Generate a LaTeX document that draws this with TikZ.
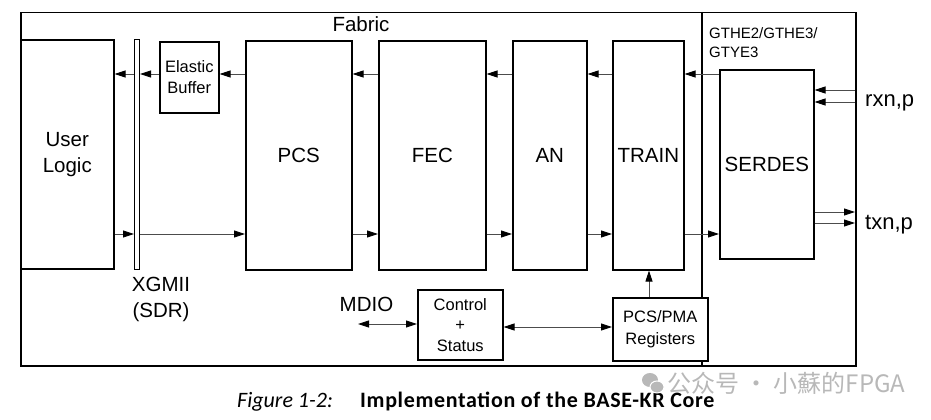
\documentclass[tikz,border=0pt]{standalone}
\usepackage{fontspec}
\setmainfont{Liberation Sans}
\newfontfamily\capfont{Carlito}
\newfontfamily\cjkfont{Noto Sans CJK SC}
\usetikzlibrary{arrows.meta}
\begin{document}
\begin{tikzpicture}[x=1pt,y=-1pt,
  blk/.style={draw, line width=1.6pt, fill=white, inner sep=0pt, anchor=north west, align=center},
  tip/.style={-{Triangle[length=11pt,width=7pt,color=black]}},
  arr/.style={line width=0.9pt, draw=black!70, tip},
  darr/.style={line width=0.9pt, draw=black!70, {Triangle[length=11pt,width=7pt,color=black]}-{Triangle[length=11pt,width=7pt,color=black]}},
  big/.style={font=\fontsize{20.5}{26}\selectfont},
  mid/.style={font=\fontsize{16.5}{21}\selectfont},
  lbl/.style={anchor=base, inner sep=0pt},
]
\useasboundingbox (0,0) rectangle (931,420);

% outer frame and divider
\node[draw, line width=1.5pt, minimum width=835, minimum height=353, inner sep=0pt, anchor=north west] (outer) at (20,12) {};
\coordinate (divx) at (702,0);
\draw[line width=1.5pt] (outer.north -| divx) -- (outer.south -| divx);

% blocks
\node[blk, big, minimum width=93, minimum height=229] (ul) at (20,39) {User\\Logic};
\node[draw, line width=1pt, fill=white, minimum width=5, minimum height=230, inner sep=0pt, anchor=north west] (xg) at (134,39) {};
\node[blk, mid, minimum width=59, minimum height=71] (eb) at (159,41) {Elastic\\Buffer};
\node[blk, big, minimum width=106, minimum height=229] (pcs) at (245,40) {PCS};
\node[blk, big, minimum width=107, minimum height=229] (fec) at (378,40) {FEC};
\node[blk, big, minimum width=74, minimum height=229] (an) at (512,40) {AN};
\node[blk, big, minimum width=71, minimum height=229] (train) at (612,40) {TRAIN};
\node[blk, big, minimum width=94, minimum height=189] (serdes) at (719,69) {SERDES};
\node[blk, font=\fontsize{16.5}{20.5}\selectfont, minimum width=85, minimum height=70] (ctrl) at (417,289) {Control\\+\\Status};
\node[blk, font=\fontsize{16.5}{22}\selectfont, minimum width=95, minimum height=63] (regs) at (612,297) {PCS/PMA\\Registers};

% arrow rows
\coordinate (up) at (0,74);
\coordinate (lo) at (0,234);
\draw[arr] (eb.west |- up) -- (xg.east |- up);
\draw[arr] (xg.west |- up) -- (ul.east |- up);
\draw[arr] (pcs.west |- up) -- (eb.east |- up);
\draw[arr] (fec.west |- up) -- (pcs.east |- up);
\draw[arr] (an.west |- up) -- (fec.east |- up);
\draw[arr] (train.west |- up) -- (an.east |- up);
\draw[arr] (serdes.west |- up) -- (train.east |- up);

\draw[arr] (ul.east |- lo) -- (xg.west |- lo);
\draw[arr] (xg.east |- lo) -- (pcs.west |- lo);
\draw[arr] (pcs.east |- lo) -- (fec.west |- lo);
\draw[arr] (fec.east |- lo) -- (an.west |- lo);
\draw[arr] (an.east |- lo) -- (train.west |- lo);
\draw[arr] (train.east |- lo) -- (serdes.west |- lo);

% serial pins
\coordinate (rx1) at (855,90);
\coordinate (rx2) at (855,102);
\coordinate (tx1) at (855,212);
\coordinate (tx2) at (855,223);
\draw[arr] (rx1) -- (serdes.east |- rx1);
\draw[arr] (rx2) -- (serdes.east |- rx2);
\draw[arr] (serdes.east |- tx1) -- (tx1);
\draw[arr] (serdes.east |- tx2) -- (tx2);

% control paths
\coordinate (cr) at (0,327);
\coordinate (md) at (358,324);
\coordinate (rt) at (649,0);
\draw[darr] (ctrl.east |- cr) -- (regs.west |- cr);
\draw[darr] (md) -- (ctrl.west |- md);
\draw[arr] (regs.north -| rt) -- (train.south -| rt);

% labels
\node[lbl, big] (fab) at (361,32) {Fabric};
\node[lbl, anchor=base west, font=\fontsize{15}{18}\selectfont] (gt1) at (709,39) {GTHE2/GTHE3/};
\node[lbl, anchor=base west, font=\fontsize{15}{18}\selectfont] (gt2) at (709,57) {GTYE3};
\node[lbl, big] (xgl1) at (161,291) {XGMII};
\node[lbl, big] (xgl2) at (161,317) {(SDR)};
\node[lbl, big] (mdio) at (366.5,311) {MDIO};
\node[lbl, anchor=base west, font=\fontsize{22}{26}\selectfont] (rxl) at (865,106) {rxn,p};
\node[lbl, anchor=base west, font=\fontsize{22}{26}\selectfont] (txl) at (865,229) {txn,p};

% caption
\node[lbl, anchor=base west, font=\capfont\fontsize{22}{24}\selectfont] (cap1) at (237,407) {\textit{Figure 1-2:}};
\node[lbl, anchor=base west, font=\capfont\fontsize{22}{24}\selectfont\bfseries\addfontfeature{LetterSpace=3}] (cap2) at (360,407) {Implementation of the BASE-KR Core};

% watermark
\fill[black!28] (650,380) ellipse (8 and 7);
\fill[black!28, draw=white, line width=1pt] (657,387) ellipse (7 and 6);
\node[lbl, anchor=base west, text=black!28, font=\cjkfont\fontsize{24}{24}\selectfont] (wm) at (667,392) {公众号 · 小蘇的FPGA};
\end{tikzpicture}
\end{document}
